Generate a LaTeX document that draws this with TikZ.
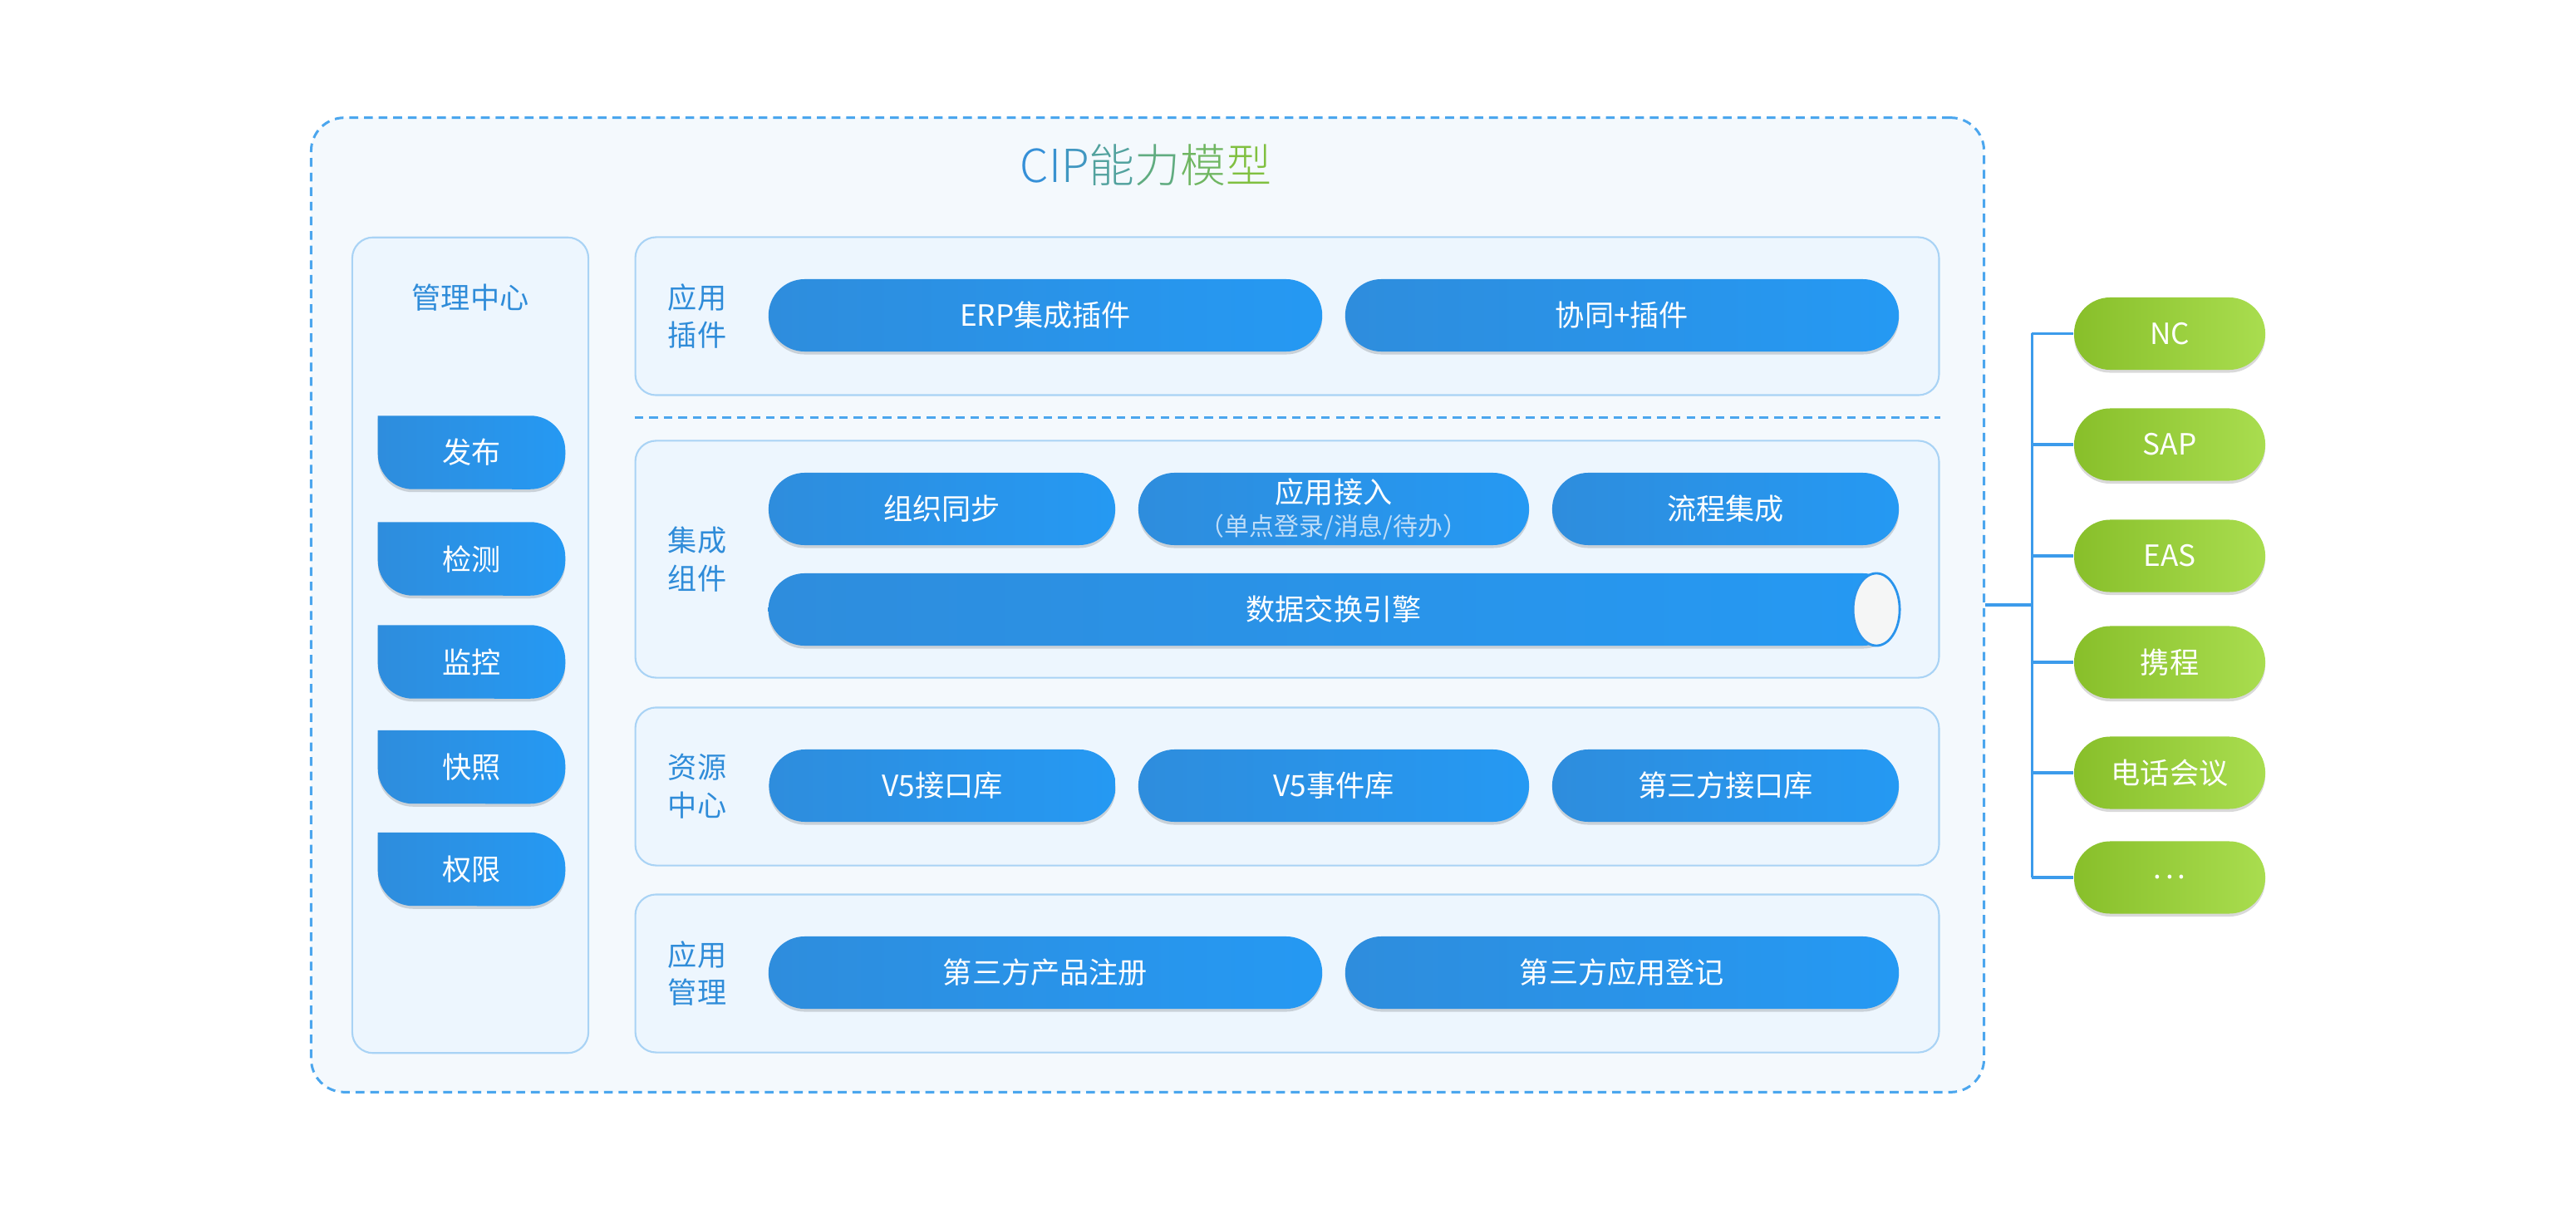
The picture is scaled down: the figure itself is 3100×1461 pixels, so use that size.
\documentclass[tikz,border=0pt]{standalone}
\usepackage{fontspec}
\setmainfont{Noto Sans CJK SC}
\newfontfamily\titlefont{Noto Sans CJK SC Light}
\usepackage{tikz}
\usetikzlibrary{calc,positioning,shapes.misc,shadows}
\pgfdeclarelayer{background}
\pgfsetlayers{background,main}
\definecolor{cipline}{HTML}{4BA6EE}
\definecolor{cipfill}{HTML}{F4F9FD}
\definecolor{panelline}{HTML}{A9D3F5}
\definecolor{panelfill}{HTML}{EDF6FE}
\definecolor{pillleft}{HTML}{2E8DDD}
\definecolor{pillright}{HTML}{2599F3}
\definecolor{greenleft}{HTML}{88BF2A}
\definecolor{greenright}{HTML}{A9DD4F}
\definecolor{labelblue}{HTML}{2F8CD9}
\definecolor{subblue}{HTML}{BFDDF8}
\definecolor{linkblue}{HTML}{3C9BEB}
\definecolor{capline}{HTML}{2A94EC}
\definecolor{capfill}{HTML}{F5F6F6}
\definecolor{titleblue}{HTML}{3590D8}
\definecolor{titlegreen}{HTML}{80C040}
\newcommand{\etcdots}{.\kern1.3pt.\kern1.3pt.}
\tikzset{
    outerbox/.style={
        rectangle,
        rounded corners=0.4cm,
        fill=cipfill,
        draw=cipline, line width=0.85pt,
        dash pattern=on 3pt off 2pt,
        minimum width=20.12cm,
        minimum height=11.72cm
    },
    panel/.style={
        rectangle,
        rounded corners=0.25cm,
        fill=panelfill,
        draw=panelline, line width=0.6pt,
        minimum width=15.68cm,
        minimum height=1.9cm
    },
    pill/.style={
        rounded rectangle,
        inner sep=0pt,
        minimum height=0.87cm,
        left color=pillleft, right color=pillright,
        text=white,
        drop shadow={shadow xshift=0pt, shadow yshift=-1pt, opacity=0.15, fill=black},
        font={\fontsize{10pt}{12pt}\selectfont}
    },
    extpill/.style={
        pill,
        left color=greenleft, right color=greenright,
        minimum width=2.3cm
    },
    tool/.style={
        rectangle,
        inner sep=0pt,
        minimum width=2.24cm,
        minimum height=0.87cm,
        text=white,
        font={\fontsize{10pt}{12pt}\selectfont}
    },
    toolface/.style={
        left color=pillleft, right color=pillright,
        drop shadow={shadow xshift=0pt, shadow yshift=-1pt, opacity=0.15, fill=black}
    },
    seclabel/.style={
        align=center,
        text=labelblue,
        font={\fontsize{10pt}{13pt}\selectfont}
    },
    endcap/.style={draw=capline, line width=0.8pt, fill=capfill},
    link/.style={draw=linkblue, line width=0.9pt},
    sepline/.style={draw=cipline, line width=0.85pt, dash pattern=on 3pt off 2pt},
}
\begin{document}
\begin{tikzpicture}[x=0.01cm, y=0.01cm]
\useasboundingbox (0,0) rectangle (3100,-1461);

\foreach \l/\y [count=\i] in {发布/544.5, 检测/672.5, 监控/796.5, 快照/923, 权限/1046}
  \node [tool] (tool-\i) at (567.5,-\y) {\l};

\begin{pgfonlayer}{background}
  \fill [white] (0,0) rectangle (3100,-1461);
  \node [outerbox] (cip) at (1381,-728) {};
  \node [panel, minimum width=2.84cm, minimum height=9.81cm] (mgr) at (566,-776.5) {};
  \foreach \y/\h [count=\i] in {380.5/1.9, 673/2.85, 946.5/1.9, 1171.5/1.9}
    \node [panel, minimum height=\h cm] (sec-\i) at (1549,-\y) {};
  \foreach \i in {1,...,5}
    \shade [toolface] (tool-\i.north west) -- ($(tool-\i.north east)+(-42,0)$)
      arc [start angle=90, end angle=0, radius=0.42cm]
      -- ($(tool-\i.south east)+(0,42)$)
      arc [start angle=0, end angle=-90, radius=0.42cm]
      -- ($(tool-\i.south west)+(42,0)$)
      arc [start angle=270, end angle=180, radius=0.42cm]
      -- cycle;
\end{pgfonlayer}

\node (title) at (1379,-199) {\titlefont\fontsize{15.6pt}{18pt}\selectfont
  \textcolor{titleblue}{C}\textcolor{titleblue!95!titlegreen}{I}%
  \textcolor{titleblue!85!titlegreen}{P}\textcolor{titleblue!62!titlegreen}{能}%
  \textcolor{titleblue!42!titlegreen}{力}\textcolor{titleblue!22!titlegreen}{模}%
  \textcolor{titlegreen}{型}};

\node [seclabel] (mgr-label) at (566,-358) {管理中心};

\foreach \a/\b/\y [count=\i] in {应用/插件/380.5, 集成/组件/673, 资源/中心/946.5, 应用/管理/1171.5}
  \node [seclabel] (sec-label-\i) at (839,-\y) {\a\\\b};

\draw [sepline] ($(sec-1.south west)!0.5!(sec-2.north west)$) -- ($(sec-1.south east)!0.5!(sec-2.north east)$);

\foreach \l/\x [count=\i] in {ERP集成插件/1258, 协同+插件/1952}
  \node [pill, minimum width=6.66cm] (plug-\i) at (\x,-379.5) {\l};

\node [pill, minimum width=4.17cm] (sync) at (1133.5,-612.5) {组织同步};
\node [pill, minimum width=4.7cm, align=center] (access) at (1605,-612.5)
  {应用接入\\[-1pt]{\fontsize{8.5pt}{10pt}\selectfont\color{subblue}（单点登录/消息/待办）}};
\node [pill, minimum width=4.17cm] (flow) at (2076.5,-612.5) {流程集成};
\node [pill, minimum width=13.6cm] (engine) at (1605,-733.5) {数据交换引擎};
\draw [endcap] ($(engine.east)+(-28,0)$) ellipse [x radius=0.28cm, y radius=0.435cm];

\foreach \l/\x/\w [count=\i] in {V5接口库/1134/4.17, V5事件库/1605/4.7, 第三方接口库/2076.5/4.17}
  \node [pill, minimum width=\w cm] (res-\i) at (\x,-945.5) {\l};

\foreach \l/\x [count=\i] in {第三方产品注册/1258, 第三方应用登记/1952}
  \node [pill, minimum width=6.66cm] (reg-\i) at (\x,-1170.5) {\l};

\foreach \l/\y [count=\i] in {NC/401.5, SAP/535, EAS/669, 携程/797, 电话会议/930, \etcdots/1056}
  \node [extpill] (ext-\i) at (2611,-\y) {\l};

\coordinate (hub) at ($(cip.east)+(56,0)$);
\draw [link] (cip.east) -- (hub);
\draw [link] (hub |- ext-1.west) -- (hub |- ext-6.west);
\foreach \i in {1,...,6}
  \draw [link] (hub |- ext-\i.west) -- (ext-\i.west);

\end{tikzpicture}
\end{document}
